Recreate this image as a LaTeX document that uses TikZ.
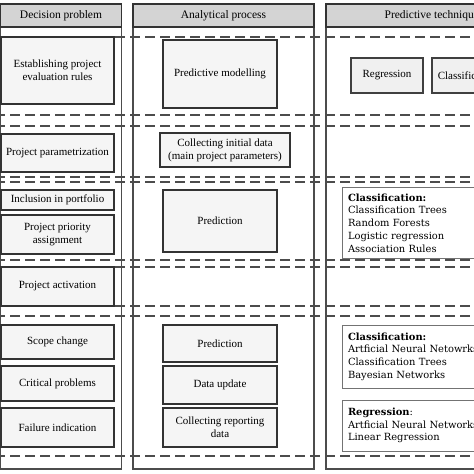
\documentclass[tikz,border=0pt]{standalone}
\usepackage{fontspec}
\setmainfont{Liberation Serif}
\newfontfamily\techfont{DejaVu Serif}
\usetikzlibrary{positioning}

\begin{document}
\begin{tikzpicture}[
    x=1pt,y=-1pt,
    colframe/.style={draw=black!70, line width=1.2pt, inner sep=0pt},
    header/.style={draw=black!80, line width=1.2pt, fill=black!17, minimum height=23pt, inner sep=0pt, font=\fontsize{11.5}{13}\selectfont},
    process/.style={draw=black!80, line width=1.3pt, fill=black!4, inner sep=2pt, align=center, font=\fontsize{11}{13}\selectfont},
    method/.style={draw=black!75, line width=1.2pt, fill=black!6, inner sep=2pt, align=center, font=\fontsize{11}{13}\selectfont},
    technique/.style={draw=black!55, line width=1pt, fill=white, inner sep=6pt, align=left, font=\techfont\fontsize{9.9}{12.7}\selectfont},
    separator/.style={draw=black!70, line width=1.4pt, dash pattern=on 10pt off 5pt}
]
    \useasboundingbox (0,0) rectangle (474,474);
    \clip (0,0) rectangle (474,474);

    % --- Columns ---
    \node[colframe, minimum width=121pt, minimum height=465pt] (coldec) at (61,236.5) {};
    \node[colframe, minimum width=181pt, minimum height=465pt] (colana) at (223.5,236.5) {};
    \node[colframe, minimum width=216pt, minimum height=465pt] (coltech) at (434,236.5) {};

    % --- Separators ---
    \foreach \y in {37,115,126,177,182,260,267,306,316,456}
        \draw[separator] (-5,\y) -- (560,\y);

    % --- Headers ---
    \node[header, minimum width=121pt] (hdec) at (61,15.5) {Decision problem};
    \node[header, minimum width=181pt] (hana) at (223.5,15.5) {Analytical process};
    \node[header, minimum width=216pt] (htech) at (434,15.5) {Predictive techniques};

    % --- Decision problem ---
    \node[process, minimum width=113pt, minimum height=67pt] (rules) at (57.5,70.5) {Establishing project\\evaluation rules};
    \node[process, minimum width=113pt, minimum height=38pt] (param) at (57.5,153) {Project parametrization};
    \node[process, minimum width=113pt, minimum height=20pt] (incl) at (57.5,200) {Inclusion in portfolio};
    \node[process, minimum width=113pt, minimum height=39pt] (prio) at (57.5,234.5) {Project priority\\assignment};
    \node[process, minimum width=113pt, minimum height=39pt] (activ) at (57.5,286.5) {Project activation};
    \node[process, minimum width=113pt, minimum height=34pt] (scope) at (57.5,342) {Scope change};
    \node[process, minimum width=113pt, minimum height=35pt] (crit) at (57.5,383.5) {Critical problems};
    \node[process, minimum width=113pt, minimum height=39pt] (fail) at (57.5,427.5) {Failure indication};

    % --- Analytical process ---
    \node[process, minimum width=114pt, minimum height=68pt] (model) at (220,74) {Predictive modelling};
    \node[process, minimum width=130pt, minimum height=34pt] (collinit) at (225,150) {Collecting initial data\\(main project parameters)};
    \node[process, minimum width=114pt, minimum height=62pt] (predA) at (220,221) {Prediction};
    \node[process, minimum width=114pt, minimum height=37pt] (predB) at (220,343.5) {Prediction};
    \node[process, minimum width=114pt, minimum height=38pt] (update) at (220,385) {Data update};
    \node[process, minimum width=114pt, minimum height=39pt] (collrep) at (220,427.5) {Collecting reporting\\data};

    % --- Predictive techniques ---
    \node[method, minimum width=72pt, minimum height=35pt] (regr) at (387,75.5) {Regression};
    \node[method, minimum width=72pt, minimum height=35pt] (clsf) at (468,75.5) {Classification};
    \node[technique, minimum width=218pt, minimum height=66pt, text width=206pt] (techA) at (451,223) {\textbf{Classification:}\\Classification Trees\\Random Forests\\Logistic regression\\Association Rules};
    \node[technique, minimum width=218pt, minimum height=63pt, text width=206pt] (techB) at (451,356.5) {\textbf{Classification:}\\Artficial Neural Netowrks\\Classification Trees\\Bayesian Networks};
    \node[technique, minimum width=218pt, minimum height=51pt, text width=206pt] (techC) at (451,425.5) {\textbf{Regression}:\\Artficial Neural Networks\\Linear Regression};

\end{tikzpicture}
\end{document}
